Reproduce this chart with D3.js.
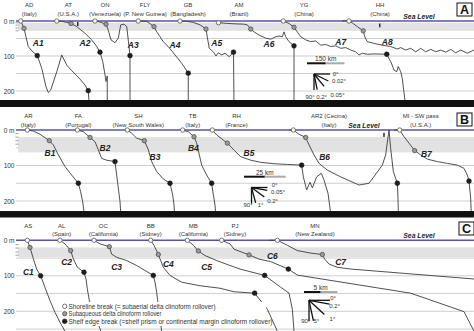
<!DOCTYPE html>
<html><head><meta charset="utf-8">
<script src="https://cdn.jsdelivr.net/npm/d3@7"></script>
<style>
html,body{margin:0;padding:0;background:#fff;}
svg{display:block;}
</style></head><body>
<svg id="c" width="474" height="331"></svg>
<script>
// ---------------- DATA (x in km along profile, y = water depth in m) ----------------
const depthTicks = [0, 100, 200];
const gridDepths = [50, 100, 150, 200, 250];
const bandA = [5, 28], bandB = [20, 63], bandC = [20, 48];
const dashesA = [5, 12, 20, 28], dashesB = [10, 20, 30, 40], dashesC = [12, 22, 33, 42];
const fanAnglesA = [0, 0.02, 0.05, 0.2, 90];
const fanAnglesB = [0, 0.05, 0.2, 1, 90];
const fanAnglesC = [0, 0.2, 1, 5, 90];
const scaleKmA = 150, scaleKmB = 25, scaleKmC = 5;
const uncertA = [[243, 3, 14], [1451, 7, 18]];
const uncertB = [[220.2, 8, 20]];
const legendItems = ["Shoreline break (= subaerial delta clinoform rollover)",
  "Subaqueous delta clinoform rollover",
  "Shelf edge break (=shelf prism or continental margin clinoform rollover)"];

const profilesA = [
 {name:"A1", site:"AD", region:"(Italy)", hx:49, s:0, g:1, b:[5,16], lab:[85,64],
  pts:[[15,0],[28,21],[36,45],[45,73],[59,85],[81,99],[99,135],[116,188],[125,204],[135,197],[159,145],[179,97],[199,126],[219,142],[252,166],[272,183],[285,199],[289,240]]},
 {name:"A2", site:"AT", region:"(U.S.A.)", hx:205, s:0, g:3, b:[8], lab:[272,64],
  pts:[[159,0],[179,1],[199,4],[216,7],[239,16],[272,35],[299,54],[319,73],[332,89],[343,116],[352,154],[356,173],[361,157],[361,240]]},
 {name:"A3", site:"ON", region:"(Venezuela)", hx:352, s:0, g:2, b:[11], lab:[465,69],
  pts:[[312,0],[332,3],[356,9],[365,26],[376,54],[392,62],[405,49],[415,11],[428,9],[439,16],[445,54],[452,99],[452,240]]},
 {name:"A4", site:"FLY", region:"(P. New Guinea)", hx:512, s:0, g:2, b:[9], lab:[632,69],
  pts:[[485,0],[519,1],[548,16],[559,31],[572,45],[585,59],[605,73],[632,97],[659,121],[685,149],[685,240]]},
 {name:"A5", site:"GB", region:"(Bangladesh)", hx:684, s:0, g:4, b:[13], lab:[799,64],
  pts:[[652,0],[679,1],[705,4],[732,11],[756,23],[761,45],[769,78],[785,88],[796,100],[805,91],[819,97],[832,92],[849,102],[866,89],[868,240]]},
 {name:"A6", site:"AM", region:"(Brazil)", hx:888, s:0, g:4, b:[16], lab:[1008,67],
  pts:[[806,5],[868,8],[908,9],[921,11],[935,23],[948,31],[968,40],[995,49],[1015,52],[1035,45],[1048,43],[1061,45],[1068,31],[1075,45],[1088,59],[1101,67],[1108,71],[1108,240]]},
 {name:"A7", site:"YG", region:"(China)", hx:1148, s:0, g:2, b:[20], lab:[1295,61],
  pts:[[1065,0],[1088,7],[1108,18],[1121,31],[1135,45],[1155,54],[1175,59],[1195,57],[1215,69],[1235,67],[1255,73],[1275,71],[1295,78],[1315,76],[1335,83],[1355,88],[1368,97],[1381,92],[1401,95],[1428,94],[1479,95],[1495,116],[1508,140],[1519,145],[1525,130],[1535,145],[1541,164],[1555,245]]},
 {name:"A8", site:"HH", region:"(China)", hx:1452, s:1, g:4, b:[], lab:[1481,61],
  pts:[[1301,0],[1328,0],[1341,5],[1361,16],[1385,28],[1391,45],[1401,59],[1428,64],[1461,69],[1495,73],[1521,80],[1535,76],[1555,83],[1575,78],[1595,88],[1615,78],[1635,88],[1655,81],[1675,88],[1695,83],[1715,89],[1735,81],[1755,91],[1775,83],[1801,92],[1828,83]]}
];

const profilesB = [
 {name:"B1", site:"AR", region:"(Italy)", hx:6.8, s:0, g:3, b:[8], lab:[19.8,66],
  pts:[[6.2,0],[9.8,3],[13.8,12],[19.4,30],[21.8,42],[24.8,70],[28.8,103],[32.8,127],[36.8,150],[38.2,174],[39.4,202],[40.2,230],[40.6,250]]},
 {name:"B2", site:"FA", region:"(Portugal)", hx:36.8, s:0, g:2, b:[7], lab:[52.8,52],
  pts:[[36.2,0],[39.8,5],[43.8,21],[46.8,33],[48.8,56],[50.8,80],[53.8,85],[58.8,89],[59.8,127],[60.8,164],[61.8,202],[62.2,230],[62.4,250]]},
 {name:"B3", site:"SH", region:"(New South Wales)", hx:72.8, s:0, g:3, b:[8], lab:[82.8,75],
  pts:[[66.2,0],[68.8,9],[71.8,23],[76.4,30],[78.8,56],[80.8,89],[83.8,117],[87.8,138],[91.8,150],[93.4,183],[94.2,211],[94.8,250]]},
 {name:"B4", site:"TB", region:"(Italy)", hx:105.4, s:0, g:2, b:[7], lab:[105.8,52],
  pts:[[99.4,0],[102.8,5],[106.2,19],[107.8,37],[109.4,70],[110.8,99],[113.8,127],[116.8,150],[117.8,183],[118.8,211],[119.4,250]]},
 {name:"B5", site:"RH", region:"(France)", hx:131.7, s:0, g:2, b:[9], lab:[139.2,66],
  pts:[[117.2,0],[119.8,14],[126.2,37],[130.5,58],[134.2,75],[140.2,85],[146.2,91],[154.2,95],[162.2,97],[170.8,99],[171.8,132],[173.8,169],[175.8,147],[177.2,163],[179.8,132],[182.6,122],[184.2,141],[186.6,178],[188.2,235],[188.6,250]]},
 {name:"B6", site:"AR2 (Cecina)", region:"(Italy)", hx:187.2, s:1, g:3, b:[16], lab:[184.6,75],
  pts:[[163.2,0],[165.8,0],[169.2,12],[173.2,21],[175.2,42],[178.2,70],[181.2,94],[186.2,113],[194.2,132],[205.2,155],[211.2,150],[219.2,99],[221.2,70],[223.2,0],[224.2,52],[225.8,117],[228.2,150],[228.6,192],[228.9,250]]},
 {name:"B7", site:"MI - SW pass", region:"(U.S.A.)", hx:242.2, s:1, g:4, b:[12], lab:[245.6,68],
  pts:[[226.4,0],[229.6,0],[232.2,19],[235.2,37],[238.6,58],[242.2,70],[246.2,82],[252.2,89],[258.2,94],[264.2,99],[268.2,108],[270.2,127],[271.2,144],[272.2,192],[272.7,250]]}
];

const profilesC = [
 {name:"C1", site:"AS", region:"", hx:1.7, s:0, g:1, b:[4], lab:[1.7,90],
  pts:[[1.55,0],[1.95,20],[2.45,52],[2.95,81],[3.55,100],[4.2,133],[4.95,170],[5.7,203],[6.45,231],[7.2,256]]},
 {name:"C2", site:"AL", region:"(Spain)", hx:6.7, s:0, g:2, b:[5], lab:[7.45,62],
  pts:[[6.45,0],[7.2,10],[8.05,29],[8.45,52],[9.05,76],[10.05,90],[10.35,109],[10.55,137],[10.85,170],[11.4,200],[12.6,256]]},
 {name:"C3", site:"OC", region:"(California)", hx:12.95, s:0, g:2, b:[8], lab:[14.95,76],
  pts:[[11.55,0],[12.45,10],[13.85,18],[14.2,39],[14.95,48],[16.45,57],[17.95,71],[19.2,85],[20.45,99],[20.7,118],[20.95,146],[21.1,170],[21.7,256]]},
 {name:"C4", site:"BB", region:"(Sidney)", hx:20.05, s:0, g:2, b:[9], lab:[22.7,67],
  pts:[[20.05,0],[20.55,14],[21.2,40],[21.95,76],[22.95,99],[24.7,118],[27.45,128],[30.45,135],[32.55,145],[35.65,149],[37.55,194],[39.05,256]]},
 {name:"C5", site:"MB", region:"(California)", hx:26.45, s:0, g:2, b:[7], lab:[28.45,76],
  pts:[[25.55,0],[26.45,14],[27.2,30],[28.2,43],[29.95,57],[31.95,71],[33.45,81],[37.15,99],[39.55,132],[40.8,149],[41.3,194],[41.55,256]]},
 {name:"C6", site:"PJ", region:"(Sidney)", hx:32.7, s:0, g:3, b:[6], lab:[38.3,45],
  pts:[[30.7,0],[31.95,10],[32.55,25],[34.8,41],[36.3,53],[38.05,60],[40.7,81],[42.05,98],[59.05,149],[67.05,201],[68.55,256]]},
 {name:"C7", site:"MN", region:"(New Zealand)", hx:44.7, s:1, g:5, b:[], lab:[48.55,62],
  pts:[[37.8,0],[39.05,0],[40.55,14],[42.05,29],[44.05,36],[45.8,40],[46.15,53],[46.8,67],[48.05,76],[50.05,81],[68.55,109]]}
];

// ---------------- LAYOUT ----------------
const FONT = '"Liberation Sans", Arial, Helvetica, sans-serif';
const TXT = "#333";
const X0 = 17, X1 = 474;
const svg = d3.select("#c").attr("font-family", FONT);

const panels = [
 {id:"A", top:0, bottom:100, sea:21, ky:0.35, kmPerPx:4, profiles:profilesA, band:bandA, dashes:dashesA, uncert:uncertA,
  hy:7, seaLab:[419,19], box:[457,3], bar:{x:307, y:63.3, km:scaleKmA, label:"150 km"},
  fan:{x:314, y:74, len:16, angles:fanAnglesA, offs:[[21.5,0],[25,7],[23.5,20.5],[7.5,22.5],[-4,22.5]]}},
 {id:"B", top:107, bottom:211, sea:130, ky:0.355, kmPerPx:0.6, profiles:profilesB, band:bandB, dashes:dashesB, uncert:uncertB,
  hy:118.4, seaLab:[364,128.3], box:[457,113], bar:{x:244, y:176.7, km:scaleKmB, label:"25 km"},
  fan:{x:251.5, y:187.5, len:16, angles:fanAnglesB, offs:[[23,-2.4],[26.5,4.6],[21,13.5],[9,17.5],[-3.5,17.5]]}},
 {id:"C", top:217.5, bottom:331, sea:240.3, ky:0.355, kmPerPx:0.15, profiles:profilesC, band:bandC, dashes:dashesC, uncert:[],
  hy:227.7, seaLab:[419,238.3], box:[459,222], bar:{x:304, y:292, km:scaleKmC, label:"5 km"},
  fan:{x:309, y:300.3, len:21, angles:fanAnglesC, offs:[[24,-2.3],[25.7,6],[23.3,19],[7.3,21],[-3.3,21]]}}
];

function drawMarker(g, type, cx, cy) {
  const st = {s:{r:2.2, fill:"#fff", stroke:"#555", sw:0.8},
              g:{r:2.2, fill:"#9a9a9a", stroke:"#444", sw:0.7},
              b:{r:2.4, fill:"#1e1e1e", stroke:"#111", sw:0.5}}[type];
  g.append("circle").attr("cx", cx).attr("cy", cy).attr("r", st.r)
    .attr("fill", st.fill).attr("stroke", st.stroke).attr("stroke-width", st.sw);
}

panels.forEach(p => {
  const x = d3.scaleLinear().domain([0, (X1 - X0) * p.kmPerPx]).range([X0, X1]);
  const y = d3.scaleLinear().domain([0, 200]).range([p.sea, p.sea + 200 * p.ky]);
  const g = svg.append("g");
  const clipId = "clip" + p.id;
  svg.append("clipPath").attr("id", clipId).append("rect")
    .attr("x", 0).attr("y", p.top).attr("width", 474).attr("height", p.bottom - p.top);
  const gc = g.append("g").attr("clip-path", `url(#${clipId})`);

  // grid
  gc.selectAll(".grid").data(gridDepths).enter().append("line")
    .attr("x1", 16).attr("x2", X1).attr("y1", d => y(d)).attr("y2", d => y(d))
    .attr("stroke", "#c9c9c9").attr("stroke-width", 0.9);
  // gray band
  gc.append("rect").attr("x", X0 + 1).attr("width", X1 - X0)
    .attr("y", y(p.band[0])).attr("height", y(p.band[1]) - y(p.band[0])).attr("fill", "#e2e2e2");
  // dashes
  gc.selectAll(".dash").data(p.dashes).enter().append("line")
    .attr("x1", 15.5).attr("x2", 18.5).attr("y1", d => y(d)).attr("y2", d => y(d))
    .attr("stroke", "#8a8a8a").attr("stroke-width", 0.8);
  // sea level
  gc.append("line").attr("x1", 16).attr("x2", X1).attr("y1", y(0)).attr("y2", y(0))
    .attr("stroke", "#5852a6").attr("stroke-width", 1.6);

  // axis labels
  const ax = g.append("g").attr("transform", "translate(16,0)")
    .call(d3.axisLeft(y).tickValues(depthTicks).tickSize(0).tickPadding(1.5)
      .tickFormat(d => d === 0 ? "0 m" : String(d)));
  ax.select(".domain").remove();
  ax.attr("font-family", FONT).attr("font-size", 6.5);
  ax.selectAll("text").attr("fill", TXT);

  const line = d3.line().x(d => x(d[0])).y(d => y(d[1]));
  // profiles
  p.profiles.forEach(pr => {
    gc.append("path").attr("d", line(pr.pts)).attr("fill", "none")
      .attr("stroke", "#3c3c3c").attr("stroke-width", 0.9).attr("stroke-linejoin", "round");
  });
  // uncertainty bars
  p.uncert.forEach(u => {
    gc.append("line").attr("x1", x(u[0])).attr("x2", x(u[0])).attr("y1", y(u[1])).attr("y2", y(u[2]))
      .attr("stroke", "#222").attr("stroke-width", 1.4);
  });
  // markers
  p.profiles.forEach(pr => {
    const sp = pr.pts[pr.s], gp = pr.pts[pr.g];
    drawMarker(gc, "s", x(sp[0]), y(sp[1]));
    drawMarker(gc, "g", x(gp[0]), y(gp[1]));
    pr.b.forEach(i => drawMarker(gc, "b", x(pr.pts[i][0]), y(pr.pts[i][1])));
  });
  // profile names
  p.profiles.forEach(pr => {
    g.append("text").attr("x", x(pr.lab[0])).attr("y", y(pr.lab[1])).attr("dy", "0.35em")
      .attr("text-anchor", "middle").attr("font-size", 8.5).attr("font-weight", "bold")
      .attr("font-style", "italic").attr("fill", "#222").text(pr.name);
  });
  // header site labels
  p.profiles.forEach(pr => {
    g.append("text").attr("x", x(pr.hx)).attr("y", p.hy).attr("text-anchor", "middle")
      .attr("font-size", 6).attr("fill", TXT).text(pr.site);
    if (pr.region) g.append("text").attr("x", x(pr.hx)).attr("y", p.hy + 8.5).attr("text-anchor", "middle")
      .attr("font-size", 6).attr("fill", TXT).text(pr.region);
  });

  // scale bar
  const barLen = x(p.bar.km) - x(0);
  g.append("rect").attr("x", p.bar.x).attr("y", p.bar.y - 1).attr("width", barLen / 2).attr("height", 2).attr("fill", "#111");
  g.append("rect").attr("x", p.bar.x + barLen / 2).attr("y", p.bar.y - 1).attr("width", barLen / 2).attr("height", 2).attr("fill", "#aaa");
  g.append("text").attr("x", p.bar.x + barLen / 2).attr("y", p.bar.y - 2.2).attr("text-anchor", "middle")
    .attr("font-size", 6.5).attr("fill", TXT).text(p.bar.label);

  // slope fan (angles exaggerated by the panel's own scales)
  const pxPerKm = x(1) - x(0);
  p.fan.angles.forEach((a, i) => {
    let ang;
    if (a >= 90) ang = Math.PI / 2;
    else {
      const dyPx = y(1000 * Math.tan(a * Math.PI / 180)) - y(0);
      ang = Math.atan2(dyPx, pxPerKm);
    }
    g.append("line").attr("x1", p.fan.x).attr("y1", p.fan.y)
      .attr("x2", p.fan.x + p.fan.len * Math.cos(ang)).attr("y2", p.fan.y + p.fan.len * Math.sin(ang))
      .attr("stroke", "#111").attr("stroke-width", 1.3);
    const o = p.fan.offs[i];
    g.append("text").attr("x", p.fan.x + o[0]).attr("y", p.fan.y + o[1]).attr("dy", "0.35em")
      .attr("text-anchor", "middle").attr("font-size", 6).attr("fill", TXT).text(a + "°");
  });

  // Sea Level label
  g.append("text").attr("x", p.seaLab[0]).attr("y", p.seaLab[1]).attr("text-anchor", "middle")
    .attr("font-size", 6.8).attr("font-style", "italic").attr("font-weight", 600).attr("fill", "#222").text("Sea Level");
  // panel letter box
  g.append("rect").attr("x", p.box[0]).attr("y", p.box[1]).attr("width", 15).attr("height", 13)
    .attr("fill", "#fff").attr("stroke", "#111").attr("stroke-width", 1);
  g.append("text").attr("x", p.box[0] + 7.5).attr("y", p.box[1] + 11.2).attr("text-anchor", "middle")
    .attr("font-size", 12.5).attr("font-weight", "bold").attr("fill", "#111").text(p.id);

  // legend in panel C
  if (p.id === "C") {
    const lg = g.append("g");
    lg.append("rect").attr("x", 62).attr("y", 302).attr("width", 204).attr("height", 24).attr("fill", "#fff");
    const ly = [306.3, 313.7, 321.3], lw = [147, 93, 204], lt = ["s", "g", "b"];
    legendItems.forEach((t, i) => {
      drawMarker(lg, lt[i], 64.7, ly[i]);
      lg.append("text").attr("x", 68.5).attr("y", ly[i]).attr("dy", "0.35em")
        .attr("font-size", 6.5).attr("fill", TXT)
        .attr("textLength", lw[i]).attr("lengthAdjust", "spacingAndGlyphs").text(t);
    });
  }
});

// panel separators
[[100, 107], [211, 217.5]].forEach(s => {
  svg.append("rect").attr("x", 0).attr("y", s[0]).attr("width", 474).attr("height", s[1] - s[0]).attr("fill", "#111");
});
</script>
</body></html>
